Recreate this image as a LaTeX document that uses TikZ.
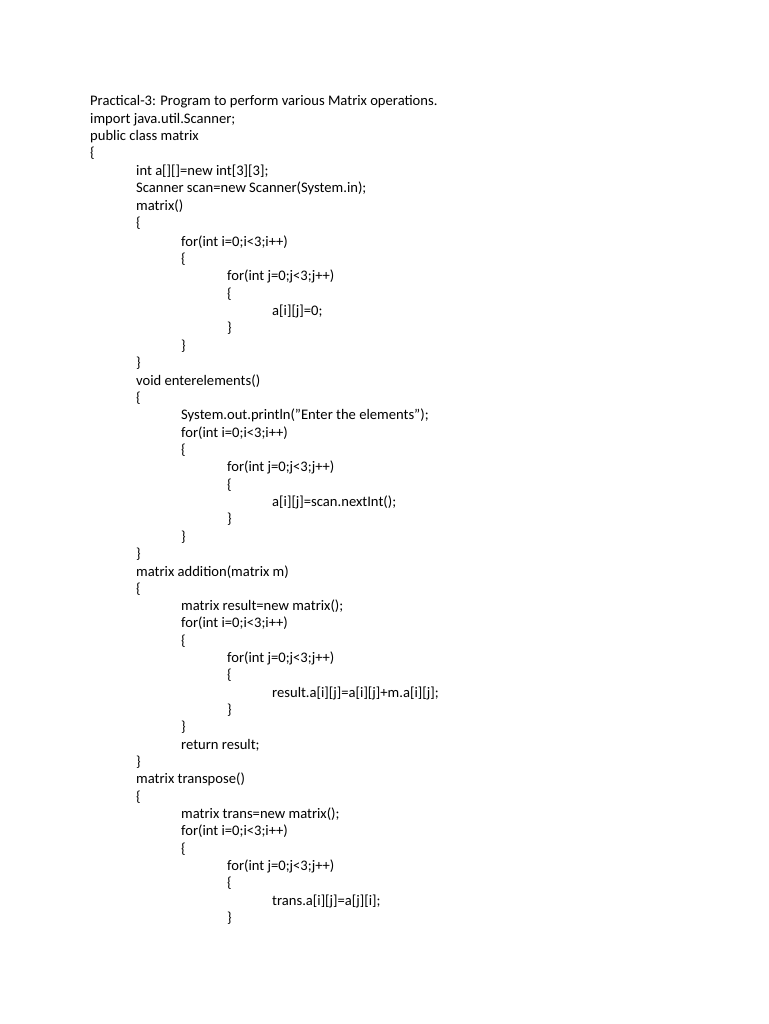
\documentclass[tikz,border=0pt]{standalone}
\usepackage{fontspec}
\setmainfont{Carlito}
\begin{document}
\begin{tikzpicture}[x=1pt,y=-1pt,every node/.style={anchor=base west,inner sep=0pt,font=\fontsize{14.6}{17}\selectfont}]
\useasboundingbox[fill=white] (0,0) rectangle (768,1024);
\def\L#1#2#3#4{\node (#1) at (#2,#3+5) {#4};}
\L{a1}{90}{101}{Practical-3: Program to perform various Matrix operations.}
\L{a2}{90}{118.5}{import java.util.Scanner;}
\L{a3}{90}{136}{public class matrix}
\L{a4}{90}{153}{\{}
\L{a5}{136}{171}{int a[][]=new int[3][3];}
\L{a6}{136}{188}{Scanner scan=new Scanner(System.in);}
\L{a7}{136}{206}{matrix()}
\L{a8}{136}{223}{\{}
\L{a9}{181}{241}{for(int i=0;i<3;i++)}
\L{a10}{181}{258}{\{}
\L{a11}{227}{275}{for(int j=0;j<3;j++)}
\L{a12}{227}{293}{\{}
\L{a13}{272}{310}{a[i][j]=0;}
\L{a14}{227}{327}{\}}
\L{a15}{181}{345}{\}}
\L{a16}{136}{362}{\}}
\L{a17}{136}{380}{void enterelements()}
\L{a18}{136}{397}{\{}
\L{a19}{181}{414}{System.out.println("Enter the elements");}
\L{a20}{181}{432}{for(int i=0;i<3;i++)}
\L{a21}{181}{449}{\{}
\L{a22}{227}{466}{for(int j=0;j<3;j++)}
\L{a23}{227}{484}{\{}
\L{a24}{272}{501}{a[i][j]=scan.nextInt();}
\L{a25}{227}{518}{\}}
\L{a26}{181}{536}{\}}
\L{a27}{136}{553}{\}}
\L{a28}{136}{571}{matrix addition(matrix m)}
\L{a29}{136}{588}{\{}
\L{a30}{181}{605}{matrix result=new matrix();}
\L{a31}{181}{622}{for(int i=0;i<3;i++)}
\L{a32}{181}{640}{\{}
\L{a33}{227}{657}{for(int j=0;j<3;j++)}
\L{a34}{227}{674}{\{}
\L{a35}{272}{692}{result.a[i][j]=a[i][j]+m.a[i][j];}
\L{a36}{227}{709}{\}}
\L{a37}{181}{726}{\}}
\L{a38}{181}{744}{return result;}
\L{a39}{136}{761}{\}}
\L{a40}{136}{778}{matrix transpose()}
\L{a41}{136}{796}{\{}
\L{a42}{181}{813}{matrix trans=new matrix();}
\L{a43}{181}{830}{for(int i=0;i<3;i++)}
\L{a44}{181}{848}{\{}
\L{a45}{227}{865}{for(int j=0;j<3;j++)}
\L{a46}{227}{882}{\{}
\L{a47}{272}{900}{trans.a[i][j]=a[j][i];}
\L{a48}{227}{917}{\}}
\end{tikzpicture}
\end{document}
